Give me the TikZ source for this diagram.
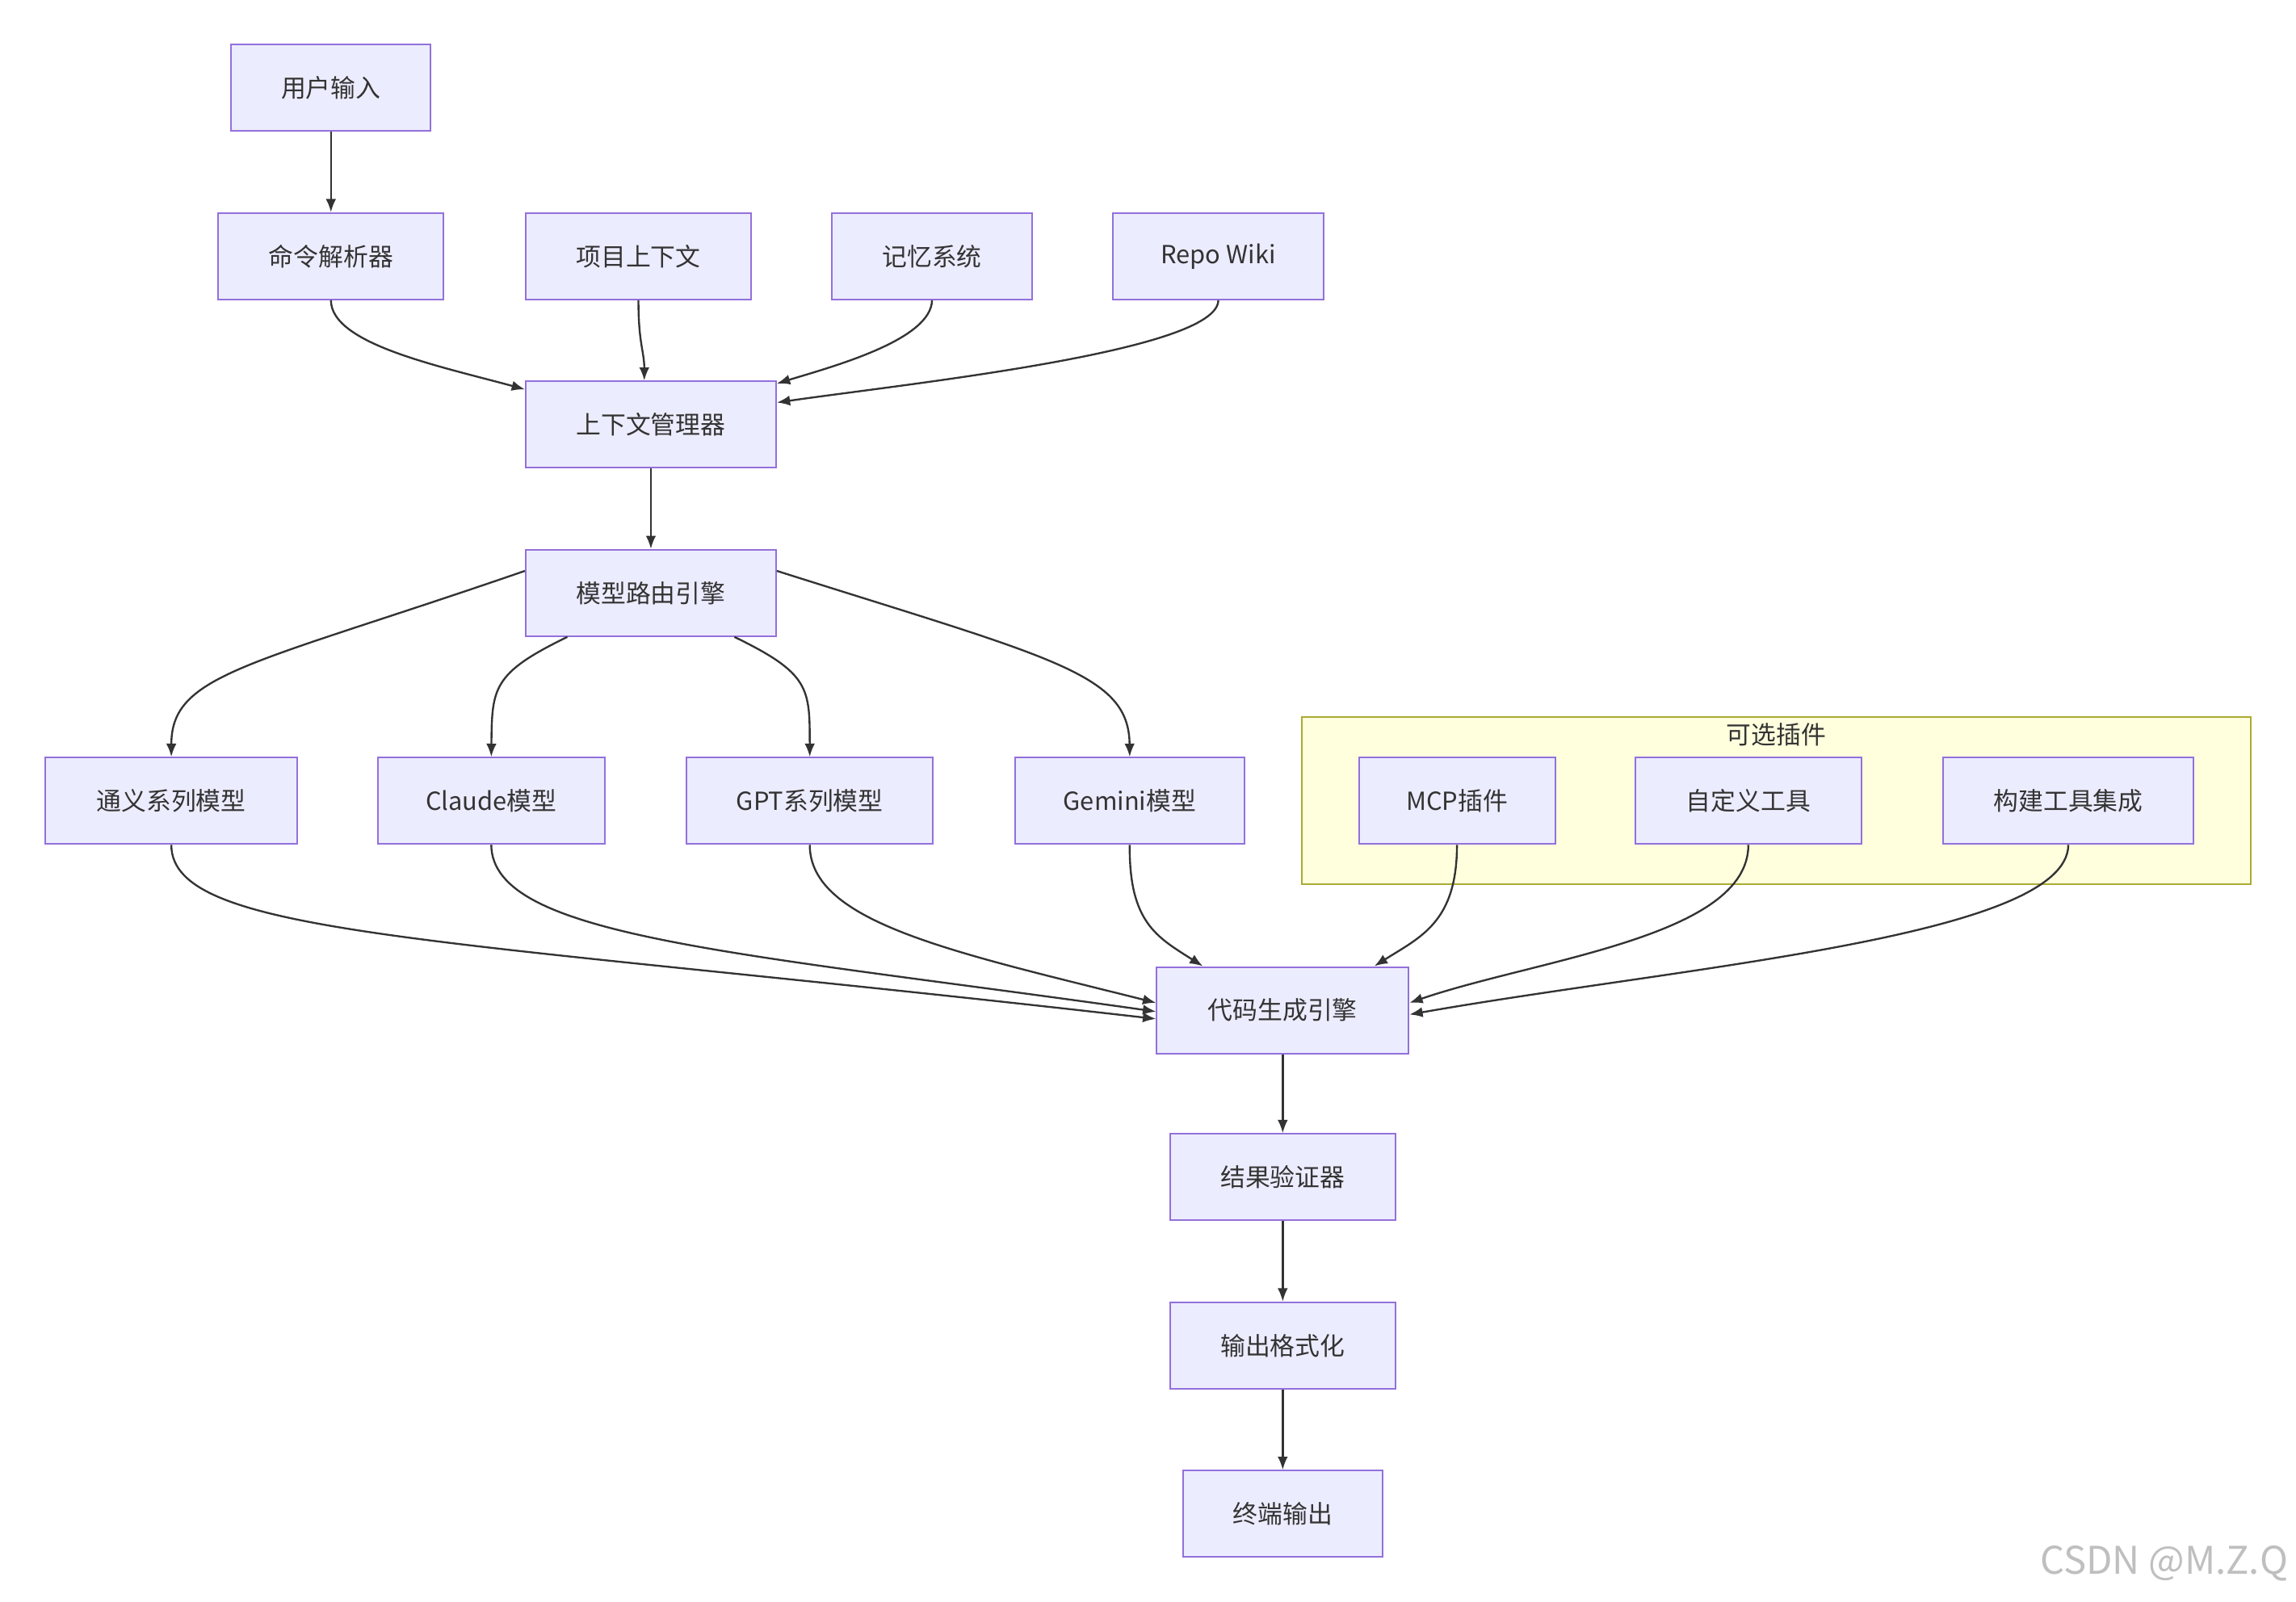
\documentclass[tikz,border=0pt]{standalone}
\usepackage{fontspec}
\setmainfont{Noto Sans CJK SC}
\usetikzlibrary{arrows.meta}
\definecolor{nf}{HTML}{ECECFF}\definecolor{ns}{HTML}{9370DB}
\definecolor{cf}{HTML}{FFFFDE}\definecolor{cs}{HTML}{AAAA33}
\definecolor{ed}{HTML}{333333}
\begin{document}
\begin{tikzpicture}[x=1pt,y=-1pt,
 box/.style={draw=ns,fill=nf,line width=1.1pt,minimum height=59pt,inner sep=0pt,font=\fontsize{17}{20}\selectfont,text=ed},
 e/.style={draw=ed,line width=1.3pt,-{Latex[length=9pt,width=7pt]}}]
\useasboundingbox (0,0) rectangle (1568,1094);
\fill[white] (0,0) rectangle (1568,1094);
\node[draw=cs,fill=cf,line width=1.1pt,minimum width=648pt,minimum height=114pt,inner sep=0pt] (cl) at (1213,547) {};
\node[font=\fontsize{17}{20}\selectfont,text=ed] (cll) at (1213,502) {可选插件};
\node[box,minimum width=136pt] (in) at (226,60) {用户输入};
\node[box,minimum width=154pt] (cmd) at (226,175) {命令解析器};
\node[box,minimum width=154pt] (proj) at (436,175) {项目上下文};
\node[box,minimum width=137pt] (mem) at (636.5,175) {记忆系统};
\node[box,minimum width=144pt] (repo) at (832,175) {Repo Wiki};
\node[box,minimum width=171pt] (ctx) at (444.5,290) {上下文管理器};
\node[box,minimum width=171pt] (rt) at (444.5,405) {模型路由引擎};
\node[box,minimum width=172pt] (ty) at (117,547) {通义系列模型};
\node[box,minimum width=155pt] (cla) at (335.5,547) {Claude模型};
\node[box,minimum width=168pt] (gpt) at (553,547) {GPT系列模型};
\node[box,minimum width=157pt] (gem) at (771.5,547) {Gemini模型};
\node[box,minimum width=134pt] (mcp) at (995,547) {MCP插件};
\node[box,minimum width=154pt] (cus) at (1194,547) {自定义工具};
\node[box,minimum width=171pt] (bld) at (1412.5,547) {构建工具集成};
\node[box,minimum width=172pt] (code) at (876,690) {代码生成引擎};
\node[box,minimum width=154pt] (ver) at (876,804) {结果验证器};
\node[box,minimum width=154pt] (fmt) at (876,919) {输出格式化};
\node[box,minimum width=136pt] (out) at (876,1034) {终端输出};
\node[font=\fontsize{26}{30}\selectfont,text=black!25,anchor=east] (wm) at (1566,1068) {CSDN @M.Z.Q};
\draw[e] (in) -- (cmd);
\draw[e] (cmd.south) .. controls (226,235) and (300,250) .. ([yshift=-6pt]ctx.north west);
\draw[e] (proj.south) .. controls (436,235) and (440,240) .. ([xshift=-4.5pt]ctx.north);
\draw[e] (mem.south) .. controls (636,232) and (570,250) .. ([yshift=-2pt]ctx.north east);
\draw[e] (repo.south) .. controls (832,240) and (620,262) .. ([yshift=-15pt]ctx.north east);
\draw[e] (ctx) -- (rt);
\draw[e] ([yshift=-15pt]rt.north west) .. controls (170,455) and (117,460) .. (ty.north);
\draw[e] ([xshift=29pt]rt.south west) .. controls (336,460) and (336,470) .. (cla.north);
\draw[e] ([xshift=-29pt]rt.south east) .. controls (553,460) and (553,470) .. (gpt.north);
\draw[e] ([yshift=-15pt]rt.north east) .. controls (720,450) and (771,460) .. (gem.north);
\draw[e] (ty.south) .. controls (117,640) and (300,640) .. ([yshift=-36pt]code.north west);
\draw[e] (cla.south) .. controls (336,640) and (500,650) .. ([yshift=-31pt]code.north west);
\draw[e] (gpt.south) .. controls (553,630) and (650,650) .. ([yshift=-25pt]code.north west);
\draw[e] (gem.south) .. controls (771,630) and (790,640) .. ([xshift=32pt]code.north west);
\draw[e] (mcp.south) .. controls (995,630) and (970,640) .. ([xshift=-24pt]code.north east);
\draw[e] (cus.south) .. controls (1194,640) and (1050,655) .. ([yshift=-25pt]code.north east);
\draw[e] (bld.south) .. controls (1412,640) and (1150,660) .. ([yshift=-33pt]code.north east);
\draw[e] (code) -- (ver);
\draw[e] (ver) -- (fmt);
\draw[e] (fmt) -- (out);
\end{tikzpicture}
\end{document}
